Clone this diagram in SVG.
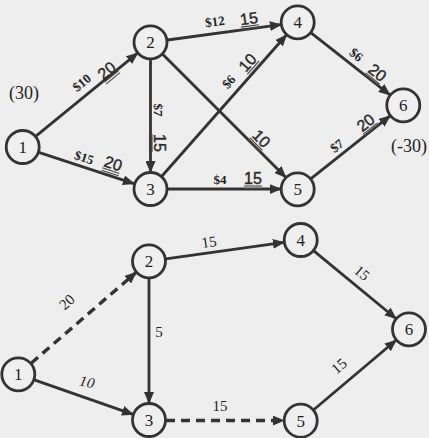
<svg xmlns="http://www.w3.org/2000/svg" width="429" height="438" viewBox="0 0 429 438">
<style>
.bg{fill:#eeeeee}
.node circle{fill:#efefef;stroke:#333;stroke-width:2.8}
.node text{font-family:"Liberation Serif",serif;font-size:17px;fill:#222;text-anchor:middle}
.e{stroke:#333;stroke-width:2.8;fill:none;marker-end:url(#ah)}
.dash{stroke-dasharray:9,6;stroke-width:3.4}
.cost{font-family:"Liberation Serif",serif;font-weight:bold;font-size:13px;fill:#222;text-anchor:middle}
.flow{font-family:"Liberation Sans",sans-serif;font-size:16px;fill:#2a2a2a;stroke:#2a2a2a;stroke-width:0.4;text-anchor:middle}
.ul{stroke:#444;stroke-width:1.1}
.sol{font-family:"Liberation Serif",serif;font-size:15px;fill:#222;text-anchor:middle}
.sup{font-family:"Liberation Serif",serif;font-size:18px;fill:#222;text-anchor:middle}
</style>
<defs>
<marker id="ah" markerUnits="userSpaceOnUse" markerWidth="12" markerHeight="10" refX="11" refY="5" orient="auto">
<path d="M0,0 L12,5 L0,10 Z" fill="#333"/>
</marker>
<g id="u20"><text class="flow" y="5">20</text><line class="ul" x1="-9" y1="7" x2="9" y2="7"/><line class="ul" x1="-9" y1="9.5" x2="9" y2="9.5"/></g>
<g id="u15"><text class="flow" y="5">15</text><line class="ul" x1="-9" y1="7" x2="9" y2="7"/><line class="ul" x1="-9" y1="9.5" x2="9" y2="9.5"/></g>
<g id="u10"><text class="flow" y="5">10</text><line class="ul" x1="-9" y1="7" x2="9" y2="7"/><line class="ul" x1="-9" y1="9.5" x2="9" y2="9.5"/></g>
</defs>
<rect class="bg" width="429" height="438"/>

<g id="connectors">
<!-- top -->
<line class="e" x1="35.9" y1="136.2" x2="137.5" y2="53.1"/>
<line class="e" x1="38.8" y1="152.3" x2="133.9" y2="183.7"/>
<line class="e" x1="150.5" y1="59.3" x2="150.5" y2="172"/>
<line class="e" x1="167.5" y1="40" x2="280.9" y2="24.6"/>
<line class="e" x1="161.8" y1="176.3" x2="286.4" y2="35"/>
<line class="e" x1="162.7" y1="54.3" x2="285.7" y2="177.3"/>
<line class="e" x1="167.5" y1="189" x2="280.7" y2="189"/>
<line class="e" x1="311.1" y1="32.8" x2="389.9" y2="94.8"/>
<line class="e" x1="311" y1="178.7" x2="390" y2="115.9"/>
<!-- bottom -->
<line class="e dash" x1="31.2" y1="363.2" x2="136.1" y2="272.4"/>
<line class="e" x1="34.3" y1="379.9" x2="133" y2="414.4"/>
<line class="e" x1="149" y1="278.3" x2="149" y2="403"/>
<line class="e" x1="165.8" y1="258.9" x2="283.9" y2="242.4"/>
<line class="e dash" x1="166" y1="420.5" x2="283.7" y2="420.5"/>
<line class="e" x1="313.8" y1="250.8" x2="395.9" y2="318.5"/>
<line class="e" x1="313.7" y1="409.7" x2="396" y2="340.3"/>
</g>

<g id="labels-top">
<text class="cost" transform="translate(82,83) rotate(-39.3)" y="4">$10</text>
<use href="#u20" transform="translate(107,71) rotate(-39.3)"/>
<text class="cost" transform="translate(84,158) rotate(18.3)" y="4">$15</text>
<use href="#u20" transform="translate(113,164) rotate(18.3)"/>
<text class="cost" transform="translate(158,110) rotate(90)" y="4">$7</text>
<use href="#u15" transform="translate(159,143) rotate(90)"/>
<text class="cost" transform="translate(215,22) rotate(-7.7)" y="4">$12</text>
<use href="#u15" transform="translate(249,19) rotate(-7.7)"/>
<text class="cost" transform="translate(229,82) rotate(-48.5)" y="4">$6</text>
<use href="#u10" transform="translate(248,63) rotate(-48.5)"/>
<use href="#u10" transform="translate(261,139) rotate(45)"/>
<text class="cost" transform="translate(220,180)" y="4">$4</text>
<use href="#u15" transform="translate(253,179)"/>
<text class="cost" transform="translate(356,55) rotate(38.2)" y="4">$6</text>
<use href="#u20" transform="translate(377,73) rotate(38.2)"/>
<text class="cost" transform="translate(337,146) rotate(-38.5)" y="4">$7</text>
<use href="#u20" transform="translate(366,123) rotate(-38.5)"/>
<text class="sup" x="24" y="99">(30)</text>
<text class="sup" x="409" y="152">(-30)</text>
</g>

<g id="labels-bottom">
<text class="sol" transform="translate(67,302) rotate(-42)" y="5">20</text>
<text class="sol" font-style="italic" transform="translate(87,382) rotate(12)" y="5">10</text>
<text class="sol" x="159" y="337">5</text>
<text class="sol" transform="translate(209,242) rotate(-8)" y="5">15</text>
<text class="sol" x="220" y="411">15</text>
<text class="sol" transform="translate(362,273) rotate(40)" y="5">15</text>
<text class="sol" transform="translate(339,366) rotate(-40)" y="5">15</text>
</g>

<g id="n1t" class="node"><circle cx="22.7" cy="147" r="16.5"/><text x="22.7" y="153">1</text></g>
<g id="n2t" class="node"><circle cx="150.5" cy="42.3" r="16.5"/><text x="150.5" y="48.3">2</text></g>
<g id="n3t" class="node"><circle cx="150.5" cy="189" r="16.5"/><text x="150.5" y="195">3</text></g>
<g id="n4t" class="node"><circle cx="297.7" cy="22.3" r="16.5"/><text x="297.7" y="28.3">4</text></g>
<g id="n5t" class="node"><circle cx="297.7" cy="189.3" r="16.5"/><text x="297.7" y="195.3">5</text></g>
<g id="n6t" class="node"><circle cx="403.3" cy="105.3" r="16.5"/><text x="403.3" y="111.3">6</text></g>

<g id="n1b" class="node"><circle cx="18.3" cy="374.3" r="16.5"/><text x="18.3" y="380.3">1</text></g>
<g id="n2b" class="node"><circle cx="149" cy="261.3" r="16.5"/><text x="149" y="267.3">2</text></g>
<g id="n3b" class="node"><circle cx="149" cy="420" r="16.5"/><text x="149" y="426">3</text></g>
<g id="n4b" class="node"><circle cx="300.7" cy="240" r="16.5"/><text x="300.7" y="246">4</text></g>
<g id="n5b" class="node"><circle cx="300.7" cy="420.7" r="16.5"/><text x="300.7" y="426.7">5</text></g>
<g id="n6b" class="node"><circle cx="409" cy="329.3" r="16.5"/><text x="409" y="335.3">6</text></g>
</svg>
